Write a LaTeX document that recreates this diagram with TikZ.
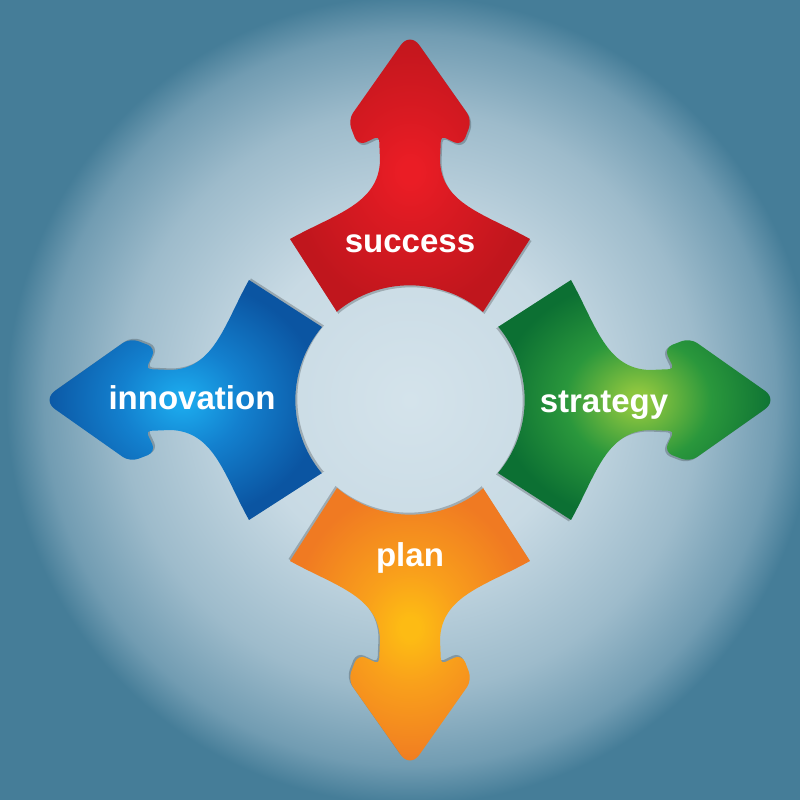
\documentclass[tikz,border=0pt]{standalone}
\usepackage{fontspec}
\setmainfont{Liberation Sans}
\definecolor{bgA}{HTML}{D4E3EB}
\definecolor{bgB}{HTML}{C8DAE4}
\definecolor{bgC}{HTML}{9DBBCB}
\definecolor{bgD}{HTML}{719CB2}
\definecolor{bgE}{HTML}{457D98}
\definecolor{redIn}{HTML}{EA1D25}
\definecolor{redMid}{HTML}{DA1A22}
\definecolor{redOut}{HTML}{C0161D}
\definecolor{grnIn}{HTML}{8DC63F}
\definecolor{grnMid}{HTML}{2A973C}
\definecolor{grnOut}{HTML}{0C7033}
\definecolor{bluIn}{HTML}{1BA6EA}
\definecolor{bluMid}{HTML}{1380CE}
\definecolor{bluOut}{HTML}{0B55A2}
\definecolor{orgIn}{HTML}{FDBB14}
\definecolor{orgMid}{HTML}{F9A01B}
\definecolor{orgOut}{HTML}{F07A22}
\usetikzlibrary{calc}

\pgfdeclareradialshading{bgglow}{\pgfpoint{0bp}{0bp}}{color(0bp)=(bgA); color(8bp)=(bgB); color(14.5bp)=(bgC); color(18.3bp)=(bgD); color(20.2bp)=(bgE); color(50bp)=(bgE)}
\newcommand{\glow}[5]{\pgfdeclareradialshading{#1}{\pgfpoint{0bp}{0bp}}{color(0bp)=(#2); color(2bp)=(#2); color(#5bp)=(#3); color(25bp)=(#4); color(50bp)=(#4)}}
\glow{redglow}{redIn}{redMid}{redOut}{10}
\glow{grnglow}{grnIn}{grnMid}{grnOut}{13}
\glow{bluglow}{bluIn}{bluMid}{bluOut}{11}
\glow{orgglow}{orgIn}{orgMid}{orgOut}{10}

% one arrow, pointing up, centre of the ring at the origin
\newcommand{\arrowshape}{(-73,88) -- (-120,161)
  .. controls (-75,186) and (-31,196) .. (-30,240)
  [rounded corners=2.5pt] -- (-31,264)
  [rounded corners=5pt] -- (-52,254) -- (-62,280)
  [rounded corners=9pt] -- (0,368)
  [rounded corners=5pt] -- (62,280) -- (52,254)
  [rounded corners=2.5pt] -- (31,264)
  [sharp corners] -- (30,240)
  .. controls (31,196) and (75,186) .. (120,161)
  -- (73,88) arc[start angle=50, end angle=130, radius=114] -- cycle}

\begin{document}
\begin{tikzpicture}[x=0.02cm, y=0.02cm,
  label/.style={text=white, font=\fontsize{18.8}{22}\selectfont\bfseries, inner sep=0pt},
  shadow/.style={fill=black, opacity=0.22}
]
  \useasboundingbox (0,0) rectangle (800,800);
  \clip (0,0) rectangle (800,800);
  \fill[bgE] (0,0) rectangle (800,800);
  \shade[shading=bgglow] (-90,-100) rectangle (910,900);

  \foreach \ang/\sh in {0/redglow, -90/grnglow, 180/orgglow, 90/bluglow} {
    \begin{scope}[shift={(410,400)}, rotate=\ang]
      \fill[shadow, shift={(1.5,-2)}] \arrowshape;
      \shade[shading=\sh] \arrowshape;
    \end{scope}
  }

  \node[label] (success) at (410,556) {success};
  \node[label] (strategy) at (604,395) {strategy};
  \node[label] (plan) at (410,242) {plan};
  \node[label] (innovation) at (192,402) {innovation};
\end{tikzpicture}
\end{document}
